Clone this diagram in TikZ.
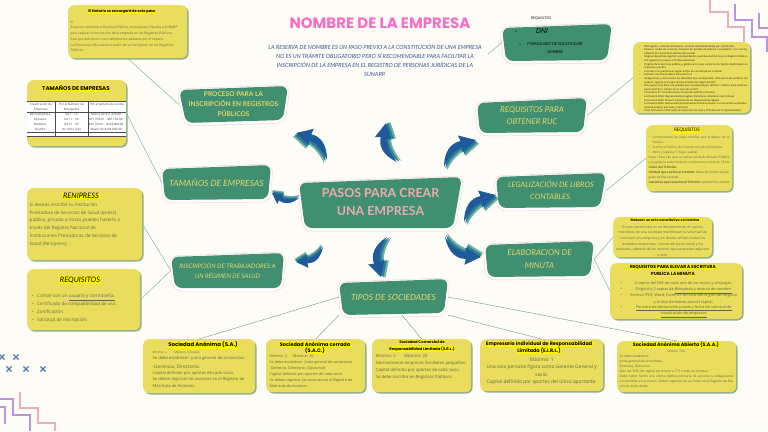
\documentclass[tikz,border=0pt]{standalone}
\usepackage{fontspec}
\setmainfont{Open Sans}
\newfontfamily\popf{Poppins}
\newfontfamily\latof{Lato}
\usetikzlibrary{shadows,fit,calc}
\definecolor{bgc}{HTML}{FEFCF6}
\definecolor{cardc}{HTML}{EADD5E}
\definecolor{shadc}{HTML}{8FAE8C}
\definecolor{greenc}{HTML}{3F8F70}
\definecolor{pinkl}{HTML}{F5CCD8}
\definecolor{hlyell}{RGB}{255,243,0}
\definecolor{bodyc}{HTML}{5C6A3C}
\definecolor{linkc}{HTML}{8FC0AE}
\definecolor{labely}{HTML}{E8D868}
\definecolor{centerp}{HTML}{EBAEB0}
\definecolor{titlep}{HTML}{FB6CC8}
\definecolor{parac}{HTML}{34558F}
\definecolor{stairp}{HTML}{E8AFC0}
\definecolor{stairv}{HTML}{B993DC}
\definecolor{crossc}{HTML}{5478AE}
\definecolor{arrA}{HTML}{6FB0A4}
\definecolor{arrB}{HTML}{2E7F93}
\definecolor{arrC}{HTML}{1F5A9A}
\newcommand\fs[2]{\fontsize{#1}{#2}\selectfont}
\tikzset{
  cardbox/.style={fill=cardc,rounded corners=6pt,inner xsep=2.5pt,inner ysep=1pt,
    copy shadow={shadow xshift=1.3pt,shadow yshift=-1.3pt,fill=shadc,draw=none},text=bodyc},
  link/.style={draw=linkc,line width=.6pt},
  dlink/.style={draw=linkc!80!black,line width=.5pt,dash pattern=on 2pt off .5pt},
  glabel/.style={align=center,text=labely,inner sep=0pt},
  stairP/.style={draw=stairp,line width=2.6pt},
  stairV/.style={draw=stairv,line width=2.6pt},
  crossm/.style={draw=crossc,line width=1.1pt},
  tcell/.style={inner sep=0pt,text=black!75,align=center,font=\fs{3}{4.6}},
  rowline/.style={draw=black!70,line width=.35pt},
  hlnode/.style={fill=hlyell,inner xsep=.6pt,inner ysep=.5pt,text=black,font=\popf\bfseries\fs{#1}{#1}},
  hlital/.style={fill=hlyell,inner xsep=1.2pt,inner ysep=.6pt,text=black,font=\latof\itshape\fs{#1}{#1}},
}
\newcommand\bl[2][5pt]{\par\noindent\hangindent=#1\hangafter=1\makebox[#1][l]{\textbullet}#2\par}
\newcommand\card[6]{%
  \pgfmathsetmacro\cw{#4-#2-5}\pgfmathsetmacro\ch{#5-#3-2}%
  \node[cardbox,anchor=north west] (#1) at (#2,#3)
    {\begin{minipage}[c][\ch pt][t]{\cw pt}#6\end{minipage}};}
\newcommand\gbox[7]{%
  \coordinate (#1-a) at (#2);\coordinate (#1-b) at (#3);\coordinate (#1-c) at (#4);\coordinate (#1-d) at (#5);
  \draw[pinkl,line width=4.6pt,line join=round,rounded corners=7pt,fill=white] ($(#1-a)+(0,1)$)--($(#1-b)+(0,1)$)--($(#1-c)+(0,1)$)--($(#1-d)+(0,1)$)--cycle;
  \draw[white,line width=3.6pt,line join=round,rounded corners=7pt] ($(#1-a)+(0,1)$)--($(#1-b)+(0,1)$)--($(#1-c)+(0,1)$)--($(#1-d)+(0,1)$)--cycle;
  \fill[greenc,rounded corners=7pt] (#1-a)--(#1-b)--(#1-c)--(#1-d)--cycle;
  \node[fit=(#1-a)(#1-b)(#1-c)(#1-d),inner sep=0pt] (#1) {};
  \node[glabel,#6] (#1-t) at (#1.center) {#7};}
\newcommand\arrowlayer[2]{\fill[#1,shift={(0,#2)}] (0,0) .. controls (.25,.29) and (.5,.33) .. (.70,.22)
   -- (.74,.36) -- (1,0) -- (.56,-.02) -- (.63,.09) .. controls (.45,.14) and (.2,.10) .. cycle;}
\newcommand\bigarrow[5]{%
  \pgfmathsetmacro\dxx{#3-#1}\pgfmathsetmacro\dyy{#4-#2}%
  \pgfmathsetmacro\alen{veclen(\dxx,\dyy)}\pgfmathsetmacro\aang{atan2(-\dyy,\dxx)}%
  \pgfmathsetmacro\ayy{-(#5)*\alen}%
  \begin{scope}[shift={(#1,#2)},rotate=\aang,x=\alen pt,y=\ayy pt]
    \arrowlayer{arrA}{-.11}\arrowlayer{arrB}{-.06}\arrowlayer{arrC}{0}
  \end{scope}}
\newcommand\xmark[2]{\draw[crossm] (#1-2.6,#2-2.6)--(#1+2.6,#2+2.6) (#1-2.6,#2+2.6)--(#1+2.6,#2-2.6);}
\begin{document}
\begin{tikzpicture}[x=1pt,y=-1pt]
\useasboundingbox (0,0) rectangle (768,431);
\fill[bgc] (0,0) rectangle (768,431);
% decorations
\draw[stairP] (710,0)--(710,12)--(728,12)--(728,27)--(744,27)--(744,42);
\draw[stairV] (735,4)--(735,20)--(752,20)--(752,37)--(768,37);
\draw[stairV] (759,13)--(759,28)--(768,28);
\draw[stairV] (767,37)--(767,52);
\draw[stairP] (20,392)--(20,408)--(38,408)--(38,423)--(55,423)--(55,431);
\draw[stairV] (0,399)--(13,399)--(13,415)--(30,415)--(30,431);
\draw[stairV] (0,407)--(5,407)--(5,424);
\xmark{2}{357}\xmark{16}{357}\xmark{9}{369}\xmark{26}{369}\xmark{43}{369}
% title and paragraph
\node[inner sep=0pt,text=titlep,font=\popf\bfseries\fs{15}{17}] (title) at (380,23) {NOMBRE DE LA EMPRESA};
\node[inner sep=0pt,text=parac,align=center,font=\latof\itshape\fs{5.65}{9}] (para) at (375,60.5) {LA RESERVA DE NOMBRE ES UN PASO PREVIO A LA CONSTITUCIÓN DE UNA EMPRESA\\NO ES UN TRÁMITE OBLIGATORIO PERO SÍ RECOMENDABLE PARA FACILITAR LA\\INSCRIPCIÓN DE LA EMPRESA EN EL REGISTRO DE PERSONAS JURÍDICAS DE LA\\SUNARP.};
% green boxes
\gbox{main}{299,183}{462,177}{453,228}{305,228}{font=\latof\bfseries\fs{12.4}{18},text=centerp}{PASOS PARA CREAR\\UNA EMPRESA}
\gbox{proc}{179,90}{288,86}{283,120}{186,123}{font=\latof\bfseries\fs{6.6}{10}}{PROCESO PARA LA\\INSCRIPCIÓN EN REGISTROS\\PÚBLICOS}
\gbox{tam}{162,169}{271,165}{268,199}{165,200}{font=\latof\itshape\fs{8.6}{10}}{TAMAÑOS DE EMPRESAS}
\gbox{ins}{171,257}{284,253}{281,288}{175,288}{font=\latof\itshape\fs{6.2}{10}}{INSCRIPCIÓN DE TRABAJADORES A\\UN RÉGIMEN DE SALUD}
\gbox{tip}{339,283}{448,279}{444,313}{343,315}{font=\latof\itshape\fs{8.4}{10}}{TIPOS DE SOCIEDADES}
\gbox{ruc}{477,103}{587,98}{583,132}{480,133}{font=\latof\itshape\fs{8}{12}}{REQUISITOS PARA\\OBTENER RUC}
\gbox{leg}{496,177}{606,173}{600,207}{499,208}{font=\latof\itshape\fs{7.5}{12}}{LEGALIZACIÓN DE LIBROS\\CONTABLES.}
\gbox{ela}{485,245}{594,241}{590,276}{488,277}{font=\latof\itshape\fs{8}{13}}{ELABORACION DE\\MINUTA}
\gbox{dni}{502,28}{612,24}{607,60}{506,61}{font=\fs{3.9}{7.5}}{\phantom{x}}
\node[inner sep=0pt,font=\fs{3.6}{5}] (reqsmall) at (541,18) {REQUISITOS};
\node[inner sep=0pt,font=\latof\itshape\fs{7}{8}] (dnitxt) at (542,31) {DNI};
\node[inner sep=0pt,font=\fs{5}{6}] (dnib1) at (516,32) {•};
\node[inner sep=0pt,font=\fs{4}{6}] (dnib2) at (520,46) {•};
\node[inner sep=0pt,align=center,font=\latof\itshape\fs{3.9}{7.5}] (formtxt) at (555,48) {FORMULARIO DE SOLICITUD DE\\NOMBRE};
% cards
\card{c1}{68}{5}{187}{58}{\vspace*{14.5pt}{\fs{3.3}{5.7}El\\Área con ultimátile a Escritura Pública, es necesario llevarla a SUNARP\\para realizar la inscripción de la empresa en los Registros Públicos.\\Este procedimiento normalmente es realizado por el notario.\\La Persona Jurídica existe a partir de su inscripción en los Registros\\Públicos.\par}}
\card{c2}{27}{80}{126}{146}{\mbox{}}
\card{c3}{27}{188}{142}{260}{\vspace*{13.5pt}{\fs{4.6}{7.8}Si deseas inscribir tu Institución\\Prestadora de Servicios de Salud (Ipress)\\pública, privada o mixta, puedes hacerlo a\\través del Registro Nacional de\\Instituciones Prestadoras de Servicios de\\Salud (Renipress).\par}}
\card{c4}{27}{269}{140}{330}{\vspace*{24pt}{\fs{4.6}{8}\leftskip=2.5pt\bl[5pt]{Contar con un \underline{usuario y contraseña.}}\bl[5pt]{Certificado de compatibilidad de uso.}\bl[5pt]{Zonificación.}\bl[5pt]{Solicitud de inscripción.}}}
\card{c5}{143}{339}{255}{393}{\vspace*{10.5pt}{\leftskip=7pt\fs{3}{4.4}Mínimo: 2 \hspace{6pt} Máximo: Ilimitado\par\fs{4.1}{6.6}Se debe establecer: Junta general de accionistas.\par\fs{4.8}{8.5}-Gerencia, Directorio.\par\fs{4.1}{6.4}Capital definido por aportes de cada socio.\\Se deben registrar las acciones en el Registro de\\Matrícula de Acciones.\par}}
\card{c6}{266}{339}{365}{392}{\vspace*{14.5pt}{\leftskip=1pt\fs{3.7}{5.9}Mínimo: 2 \hspace{4pt} Máximo: 20\\Se debe establecer: Junta general de accionistas.\\-Gerencia, Directorio. (Opcional)\\Capital definido por aportes de cada socio.\\Se deben registrar las acciones en el Registro de\\Matrícula de Acciones.\par}}
\card{c7}{372}{339}{471}{392}{\vspace*{14.5pt}{\leftskip=1pt\fs{4.25}{7}Mínimo: 2 \hspace{6pt} Máximo: 20\\Normalmente empresas familiares pequeñas.\\Capital definido por aportes de cada socio.\\Se debe inscribir en Registros Públicos.\par}}
\card{c8}{480}{339}{603}{391}{\vspace*{17.5pt}{\centering\fs{4.85}{7.5}Máximo: 1\\Una sola persona figura como Gerente General y\\socio.\\Capital definido por aportes del único aportante.\par}}
\card{c9}{617}{341}{736}{392}{\vspace*{12.5pt}{\fs{3.25}{5}Se debe establecer:\\Junta general de accionistas.\\Gerencia, Directorio.\\Más del 35\% del capital pertenece a 175 o más accionistas.\\Debe haber hecho una oferta pública primaria de acciones u obligaciones convertibles en acciones. Deben registrar las acciones en el Registro de Matrícula de Acciones.\par}}
\card{c10}{633}{42}{750}{113}{\vspace*{2pt}{\fs{2.55}{3.6}\color{black!70!bodyc}\leftskip=4pt%
\bl[4.5pt]{DNI vigente, carné de extranjería, carné de identidad/cédula por certificados}
\bl[4.5pt]{Boleta o recibo de servicios, bloqueo de partida electrónica o pasaporte, con autoliquidación por parte de la declaración jurada}
\bl[4.5pt]{Original de partida registral: autoliquidación y partida electrónica por el Registro Público, con vigencia no mayor a 30 días calendario}
\bl[4.5pt]{Original de la escritura pública y, gálibos en el que conste la inscripción del Estatuto de la persona jurídica}
\bl[4.5pt]{Contrato o no pertenecer según el tipo de contribuyente o similar}
\bl[4.5pt]{Estatuto: Escritura pública de la persona}
\bl[4.5pt]{Obligaciones y documento de identidad que corresponda: Para personas jurídicas del exterior, vigente con copia del documento de origen del RUC}
\bl[4.5pt]{Ante quien en el Perú o la entidad que corresponda por distrito o notaría, para autorizar representante o similar. En el caso de un RUC}
\bl[4.5pt]{Formulario N.º 02 (Informe de inscripción al RUC) a Terceros}
\bl[4.5pt]{Formulario 2054: Representantes legales, Directores, Miembros del Consejo}
\bl[4.5pt]{Formulario 2046: Nuevos Cesantes de los Responsables legales}
\bl[4.5pt]{Formulario 2046: Declaración de actividad económica anexos: con el nombre al establecimiento anterior por sede y domicilio}
\bl[4.5pt]{Ficha formulario 2054 sobre los Datos de Persona y Firmado por el representante}}}
\card{c11}{646}{125}{732}{191}{\vspace*{10pt}{\fs{3.15}{5}\bl[4pt]{Comprobante de pago emitido por el Banco de la Nación}\bl[4pt]{Escritura Pública de Constitución de la Empresa}\bl[4pt]{Altos y legalizar 3 hojas sueltas}Nota : Para ello que se realiza a lista de Notario Público o Juzgado la sede notarial no encuentra a más de 10 km\par\textbf{Inicio del Trámite:}\par\textbf{Unidad que realiza el trámite:} Mesa de Partes del Juzgado de Paz Letrado\par\textbf{Instancia que resuelve el Trámite:} Juez de Paz Letrado\par}}
\card{c12}{613}{217}{712}{257}{\vspace*{7.4pt}{\centering\fs{3.45}{5.6}El acto constitutivo es un documento en el cual los miembros de una sociedad manifiestan su voluntad de constituir una empresa y en donde señalan todos los acuerdos respectivos. Consta del pacto social y los estatutos, además de los insertos que se pueden adjuntar a este.\par}}
\card{c13}{610}{263}{742}{319}{\vspace*{17pt}{\fs{3.85}{6.4}\leftskip=8pt%
\par\noindent\makebox[9pt][l]{•}\parbox[t]{108pt}{\centering 2 copias del DNI de cada uno de los socios y cónyuges.}\par
\par\noindent\makebox[9pt][l]{•}\parbox[t]{108pt}{\centering Original y 2 copias de \underline{Búsqueda y reserva de nombre.}}\par
\par\noindent\makebox[9pt][l]{•}\parbox[t]{108pt}{\centering Archivo (PDF, Word, Excel) en un USB con el giro del negocio y la lista de bienes para el capital.}\par
\par\noindent\makebox[9pt][l]{•}\parbox[t]{108pt}{\centering \underline{Formato de declaración jurada y fecha de solicitud de}\\\underline{constitución de empresas}}\par}}
% highlighted card titles
\node[hlnode=3.6] (h1) at (122,12) {El Notario se encargará de este paso};
\node[hlnode=5.6] (h2) at (76,88) {TAMAÑOS DE EMPRESAS};
\node[hlital=7.5] (h3) at (81,196) {RENIPRESS};
\node[hlital=7.5] (h4) at (80,280) {REQUISITOS};
\node[hlnode=5.4] (h5) at (203,345) {Sociedad Anónima (S.A.)};
\node[hlnode=5] (h6a) at (315,344) {Sociedad Anónima cerrada};
\node[hlnode=5] (h6b) at (315,351) {(S.A.C.)};
\node[hlnode=3.8] (h7a) at (422,342) {Sociedad Comercial de};
\node[hlnode=3.8] (h7b) at (422,349) {Responsabilidad Limitada (S.R.L.)};
\node[hlnode=4.9] (h8a) at (539,344) {Empresario Individual de Responsabilidad};
\node[hlnode=4.9] (h8b) at (539,351) {Limitada (E.I.R.L.)};
\node[hlnode=4.8] (h9) at (676,345) {Sociedad Anónima Abierta (S.A.A.)};
\node[inner sep=0pt,text=bodyc,font=\latof\fs{3}{4}] (h9b) at (676,351) {Mínimo: 750};
\node[hlital=4.8] (h11) at (687,130) {REQUISITOS};
\node[hlnode=3.3] (h12) at (665,220) {Elaborar un acto constitutivo o iniciativa};
\node[hlnode=4.4] (h13a) at (673,267) {REQUISITOS PARA ELEVAR A ESCRITURA};
\node[hlnode=4.4] (h13b) at (673,274) {PUBLICA LA MINUTA};
% table in c2
\fill[white] (27,101) rectangle (126,136);
\draw[rowline] (27,101)--(126,101) (27,112.5)--(126,112.5) (27,132)--(126,132) (27,136)--(126,136) (55,101)--(55,136) (88,101)--(88,136);
\foreach \nm/\xx/\yy/\tx in {a1/41/107/{Clasificación de\\Empresas},a2/71.5/107/{Por el Número de\\Empleados},a3/107/104.5/{Por el tamaño de ventas},
  b1/40/114.9/Microempresa,b2/71.5/114.9/{De 1 - 10},b3/106/114.9/{Menos de \$11,250.00},
  d1/40/119.5/Pequeña,d2/71.5/119.5/{De 11 - 50},d3/106/119.5/{\$11,568.01 - \$45,750.00},
  e1/40/124.3/Mediana,e2/71.5/124.3/{De 51 - 99},e3/106/124.3/{\$45,750.01 - \$228,000.00},
  f1/40/129.3/Grande,f2/71.5/129.3/{De 100 o más},f3/106/129.3/{Mayor de \$228,000.00}}
  {\node[tcell] (t\nm) at (\xx,\yy) {\tx};}
% connectors
\draw[link] (c1.south) -- (proc.west);
\draw[link] (c2.east) -- (tam.west);
\draw[link] (c3.east) -- (ins.west);
\draw[link] (c4.east) -- (ins.west);
\coordinate (dnifree) at (488,54);
\draw[link] (dni.west) -- (dnifree);
\draw[link] (ruc.east) -- (c10.west);
\draw[link] (leg.east) -- (c11.west);
\draw[link] (ela.east) -- (c12.west);
\draw[link] (ela.east) -- (c13.west);
\draw[dlink] (tip.west) -- (c5.north);
\draw[dlink] (tip.south west) -- (c6.north);
\draw[dlink] (tip.-65) -- (c7.north);
\draw[dlink] (tip.south east) -- (c8.north);
\draw[dlink] (tip.east) -- (c9.north);
% arrows
\bigarrow{327}{160}{296}{133}{1}
\bigarrow{397}{162}{386}{123}{-1}
\bigarrow{444}{167}{476}{140}{-1}
\bigarrow{299}{198}{272}{193}{-1}
\bigarrow{323}{247}{296}{262}{-1}
\bigarrow{387}{237}{381}{277}{1}
\bigarrow{445}{237}{481}{257}{1}
\bigarrow{464}{222}{496}{195}{-1}
\end{tikzpicture}
\end{document}
